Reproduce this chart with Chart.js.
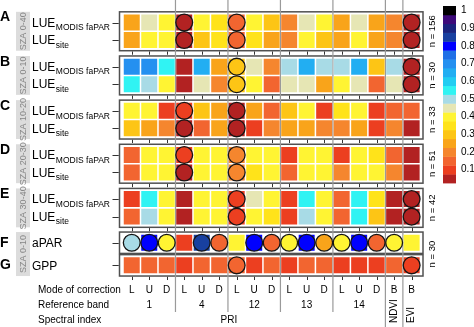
<!DOCTYPE html>
<html>
<head>
<meta charset="utf-8">
<script src="https://cdn.jsdelivr.net/npm/chart.js@4/dist/chart.umd.min.js"></script>
<style>
html,body{margin:0;padding:0;background:#fff;}
canvas{display:block;}
</style>
</head>
<body>
<canvas id="c" width="474" height="327"></canvas>
<script>
// ---------- data ----------
const modes = ['L','U','D','L','U','D','L','U','D','L','U','D','L','U','D','B','B'];
const bands = ['1','4','12','13','14'];
const spectralIndices = ['PRI','NDVI','EVI'];
const colorTicks = ['1','0.9','0.8','0.7','0.6','0.5','0.4','0.3','0.2','0.1'];
const panelLetters = ['A','B','C','D','E','F','G'];
const szaLabels = ['SZA 0-40','SZA 0-10','SZA 10-20','SZA 20-30','SZA 30-40','SZA 0-10'];
const nLabels = ['n = 156','n = 30','n = 33','n = 51','n = 42','n = 30'];

const lueModisA = [0.23,0.43,0.38,0.03,0.38,0.33,0.13,0.38,0.28,0.18,0.43,0.38,0.23,0.43,0.23,0.18,0.03];
const lueSiteA  = [0.23,0.38,0.38,0.03,0.28,0.33,0.13,0.33,0.23,0.18,0.38,0.28,0.23,0.38,0.23,0.18,0.03];
const lueModisB = [0.68,0.68,0.53,0.03,0.63,0.23,0.28,0.43,0.18,0.48,0.63,0.48,0.48,0.63,0.28,0.48,0.03];
const lueSiteB  = [0.53,0.48,0.38,0.03,0.43,0.18,0.28,0.38,0.13,0.43,0.43,0.23,0.38,0.43,0.13,0.43,0.03];
const lueModisC = [0.38,0.38,0.08,0.08,0.28,0.23,0.03,0.23,0.13,0.28,0.38,0.08,0.33,0.38,0.08,0.13,0.13];
const lueSiteC  = [0.28,0.23,0.18,0.03,0.13,0.23,0.03,0.08,0.18,0.23,0.23,0.18,0.18,0.23,0.08,0.18,0.03];
const lueModisD = [0.13,0.38,0.38,0.08,0.38,0.38,0.18,0.38,0.38,0.08,0.38,0.38,0.08,0.38,0.33,0.13,0.03];
const lueSiteD  = [0.13,0.38,0.38,0.03,0.38,0.38,0.18,0.33,0.38,0.13,0.38,0.38,0.18,0.38,0.38,0.18,0.03];
const lueModisE = [0.08,0.53,0.38,0.03,0.38,0.38,0.08,0.43,0.38,0.08,0.53,0.38,0.13,0.53,0.33,0.03,0.03];
const lueSiteE  = [0.13,0.48,0.38,0.03,0.38,0.38,0.08,0.38,0.33,0.08,0.48,0.38,0.13,0.53,0.28,0.03,0.03];
const aparF     = [0.48,0.78,0.38,0.08,0.83,0.13,0.38,0.78,0.13,0.38,0.78,0.23,0.38,0.78,0.13,0.38,0.38];
const gppG      = [0.13,0.13,0.13,0.08,0.13,0.13,0.13,0.08,0.13,0.08,0.13,0.13,0.08,0.08,0.08,0.13,0.08];

// columns marked with a circle (significant), per panel
const circA = [3,6,16];
const circB = [6,16];
const circC = [3,6];
const circD = [3,6];
const circE = [6,16];
const circF = [0,1,2,4,5,7,8,9,10,11,12,13,14,15];
const circG = [6,16];
// aPAR columns that also show a square cell
const squareF = [1,3,4,6,7,10,13,16];

// ---------- colours ----------
const palette = ['#b22222','#ec3f20','#f26530','#f5862e','#f9a41a','#fdc515','#ffe31a','#fff433',
  '#e6e6b4','#a8dbe6','#30f3f3','#22cdf2','#22aef2','#2490f0','#2070e6','#0000ff',
  '#1840a0','#1a237e','#3d0a7a','#000000'];
function colorOf(v){ let k = Math.floor(v*20); k = Math.max(0, Math.min(19, k)); return palette[k]; }

// ---------- layout ----------
const rowPos = [0,1, 2.52,3.52, 5.04,6.04, 7.56,8.56, 10.08,11.08, 12.57, 13.86];
const rows = [
  {vals:lueModisA, circ:circA, lab:'LUE', sub:'MODIS faPAR'},
  {vals:lueSiteA,  circ:circA, lab:'LUE', sub:'site'},
  {vals:lueModisB, circ:circB, lab:'LUE', sub:'MODIS faPAR'},
  {vals:lueSiteB,  circ:circB, lab:'LUE', sub:'site'},
  {vals:lueModisC, circ:circC, lab:'LUE', sub:'MODIS faPAR'},
  {vals:lueSiteC,  circ:circC, lab:'LUE', sub:'site'},
  {vals:lueModisD, circ:circD, lab:'LUE', sub:'MODIS faPAR'},
  {vals:lueSiteD,  circ:circD, lab:'LUE', sub:'site'},
  {vals:lueModisE, circ:circE, lab:'LUE', sub:'MODIS faPAR'},
  {vals:lueSiteE,  circ:circE, lab:'LUE', sub:'site'},
  {vals:aparF, circ:circF, lab:'aPAR', sub:'', squares:squareF},
  {vals:gppG,  circ:circG, lab:'GPP',  sub:''}
];
const panels = [[0,1],[2,3],[4,5],[6,7],[8,9],[10],[11]];
const szaGroups = [[0],[1],[2],[3],[4],[5,6]];

const cellData = [], circleData = [];
rows.forEach((r, ri) => {
  r.vals.forEach((v, c) => {
    const isCirc = r.circ.includes(c);
    const showSq = r.squares ? r.squares.includes(c) : true;
    if (showSq) cellData.push({x:c, y:rowPos[ri], v:v});
    if (isCirc) circleData.push({x:c, y:rowPos[ri], v:v});
  });
});

const FONT = "'Liberation Sans', Arial, Helvetica, sans-serif";
const HALF = 0.61;

const decor = {
  id:'decor',
  beforeDatasetsDraw(chart){
    const {ctx, scales:{x,y}, chartArea:ca} = chart;
    ctx.save();
    panels.forEach(p => {
      const top = y.getPixelForValue(rowPos[p[0]] - HALF);
      const bot = y.getPixelForValue(rowPos[p[p.length-1]] + HALF);
      ctx.fillStyle = '#fff';
      ctx.fillRect(ca.left, top, ca.right-ca.left, bot-top);
      ctx.strokeStyle = '#505050'; ctx.lineWidth = 1.5;
      ctx.strokeRect(ca.left, top, ca.right-ca.left, bot-top);
      ctx.lineWidth = 1; ctx.strokeStyle = '#333';
      ctx.beginPath();
      for (let c = 0; c < modes.length; c++){
        const px = Math.round(x.getPixelForValue(c)) + 0.5;
        ctx.moveTo(px, bot + 0.75); ctx.lineTo(px, bot + 4);
      }
      p.forEach(ri => {
        const py = Math.round(y.getPixelForValue(rowPos[ri])) + 0.5;
        ctx.moveTo(ca.left - 7, py); ctx.lineTo(ca.left - 0.75, py);
      });
      ctx.stroke();
    });
    // group separators
    ctx.strokeStyle = '#9a9a9a'; ctx.lineWidth = 1.2;
    ctx.beginPath();
    [2.5,5.5,8.5,11.5].forEach(b => { const px = x.getPixelForValue(b); ctx.moveTo(px,0); ctx.lineTo(px,312); });
    [14.5,15.5].forEach(b => { const px = x.getPixelForValue(b); ctx.moveTo(px,0); ctx.lineTo(px,327); });
    ctx.stroke();
    ctx.restore();
  },
  afterDraw(chart){
    const {ctx, scales:{x,y}, chartArea:ca} = chart;
    ctx.save();
    ctx.fillStyle = '#000';
    // panel letters
    ctx.font = 'bold 14px ' + FONT; ctx.textAlign = 'left'; ctx.textBaseline = 'middle';
    panels.forEach((p, i) => {
      const off = p.length > 1 ? -5 : 0;
      ctx.fillText(panelLetters[i], 0, y.getPixelForValue(rowPos[p[0]]) + off);
    });
    // SZA strips
    szaGroups.forEach((g, i) => {
      const first = panels[g[0]], last = panels[g[g.length-1]];
      const top = y.getPixelForValue(rowPos[first[0]] - HALF);
      const bot = y.getPixelForValue(rowPos[last[last.length-1]] + HALF);
      ctx.fillStyle = '#dcdcdc';
      ctx.fillRect(16, top, 14, bot-top);
      ctx.save();
      ctx.translate(23.5, (top+bot)/2); ctx.rotate(-Math.PI/2);
      ctx.fillStyle = '#868686'; ctx.font = '9px ' + FONT;
      ctx.textAlign = 'center'; ctx.textBaseline = 'middle';
      ctx.fillText(szaLabels[i], 0, 0);
      ctx.restore();
      // n labels
      ctx.save();
      ctx.translate(432, (top+bot)/2); ctx.rotate(-Math.PI/2);
      ctx.fillStyle = '#000'; ctx.font = '9.5px ' + FONT;
      ctx.textAlign = 'center'; ctx.textBaseline = 'middle';
      ctx.fillText(nLabels[i], 0, 0);
      ctx.restore();
    });
    // row labels
    ctx.fillStyle = '#000'; ctx.textAlign = 'left'; ctx.textBaseline = 'alphabetic';
    rows.forEach((r, ri) => {
      const py = y.getPixelForValue(rowPos[ri]);
      ctx.font = '12px ' + FONT;
      ctx.fillText(r.lab, 32, py + 4.3);
      if (r.sub){
        const w = ctx.measureText(r.lab).width;
        ctx.font = '8.5px ' + FONT;
        ctx.fillText(r.sub, 32 + w + 0.5, py + 7.8);
      }
    });
    // bottom annotation rows
    ctx.font = '10px ' + FONT; ctx.textBaseline = 'middle';
    ctx.textAlign = 'left';
    ctx.fillText('Mode of correction', 38, 290);
    ctx.fillText('Reference band', 38, 305);
    ctx.fillText('Spectral index', 38, 320);
    ctx.textAlign = 'center';
    modes.forEach((m, c) => ctx.fillText(m, x.getPixelForValue(c), 290));
    bands.forEach((b, i) => ctx.fillText(b, x.getPixelForValue(i*3 + 1), 305));
    ctx.fillText(spectralIndices[0], x.getPixelForValue(5.55), 320);
    [15,16].forEach((c, i) => {
      ctx.save();
      ctx.translate(x.getPixelForValue(c), 323); ctx.rotate(-Math.PI/2);
      ctx.textAlign = 'left'; ctx.textBaseline = 'middle';
      ctx.fillText(spectralIndices[i+1], 0, 0);
      ctx.restore();
    });
    // colour bar
    const cbL = 443, cbW = 13, cbTop = 6, cbBot = 183;
    const step = (cbBot - cbTop) / palette.length;
    palette.forEach((col, k) => {
      ctx.fillStyle = col;
      ctx.fillRect(cbL, cbBot - (k+1)*step, cbW, step + 0.4);
    });
    ctx.fillStyle = '#000'; ctx.font = '10px ' + FONT;
    ctx.textAlign = 'left'; ctx.textBaseline = 'middle';
    colorTicks.forEach(t => {
      const v = parseFloat(t) - 0.025;
      ctx.fillText(t, 461, cbBot - v * (cbBot - cbTop));
    });
    ctx.restore();
  }
};

new Chart(document.getElementById('c'), {
  type: 'scatter',
  data: {
    datasets: [
      {
        label:'sig', data: circleData, order: 0,
        pointStyle:'circle', pointRadius: 8.4, pointHoverRadius: 8.4,
        pointBorderWidth: 1.3, pointBorderColor:'#151515', pointHoverBorderWidth:1.3,
        pointBackgroundColor: c => c.raw ? colorOf(c.raw.v) : '#000'
      },
      {
        label:'cells', data: cellData, order: 1,
        pointStyle:'rect', pointRadius: 11.3, pointHoverRadius: 11.3,
        pointBorderWidth: 0, pointHoverBorderWidth: 0,
        pointBackgroundColor: c => c.raw ? colorOf(c.raw.v) : '#000'
      }
    ]
  },
  options: {
    responsive: false, animation: false, events: [],
    layout: { padding: { left: 119.5, right: 51, top: 4, bottom: 51.5 } },
    scales: {
      x: { type:'linear', min:-0.7, max:16.65, display:false },
      y: { type:'linear', min:-0.64, max:14.44, reverse:true, display:false }
    },
    plugins: { legend:{display:false}, tooltip:{enabled:false} }
  },
  plugins: [decor]
});
</script>
</body>
</html>
